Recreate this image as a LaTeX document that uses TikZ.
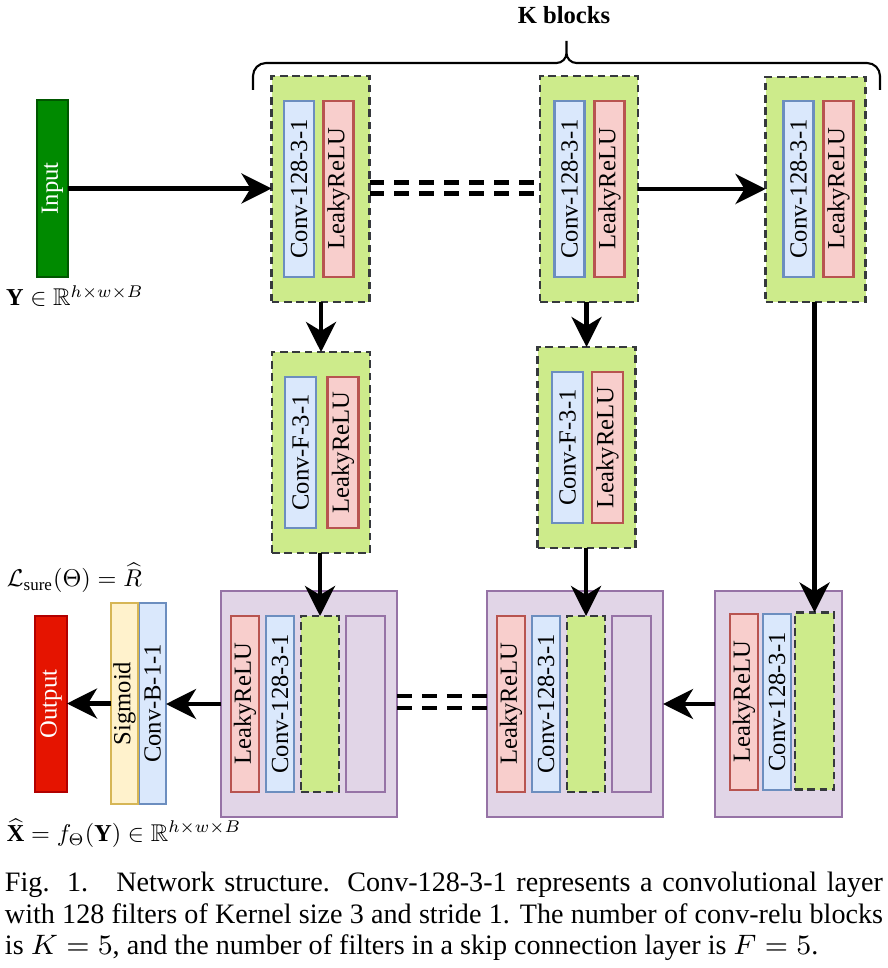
\documentclass[tikz,border=0pt]{standalone}
\usepackage{fontspec}
\setmainfont{Liberation Serif}
\usepackage{amsmath,amssymb}
\usetikzlibrary{arrows.meta}
\definecolor{gFill}{HTML}{CDEB8B}
\definecolor{gLine}{HTML}{36393D}
\definecolor{bFill}{HTML}{DAE8FC}
\definecolor{bLine}{HTML}{6C8EBF}
\definecolor{rFill}{HTML}{F8CECC}
\definecolor{rLine}{HTML}{B85450}
\definecolor{pFill}{HTML}{E1D5E7}
\definecolor{pLine}{HTML}{9673A6}
\definecolor{yFill}{HTML}{FFF2CC}
\definecolor{yLine}{HTML}{D6B656}
\definecolor{inFill}{HTML}{008A00}
\definecolor{inLine}{HTML}{005700}
\definecolor{outFill}{HTML}{E51400}
\definecolor{outLine}{HTML}{B20000}
\newcommand{\smallmath}[1]{\scalebox{0.69}{$#1$}}

\begin{document}
\begin{tikzpicture}[
  every node/.style={font=\fontsize{7}{8}\selectfont, inner sep=0pt, outer sep=0pt},
  bar/.style={rotate=90, draw, line width=0.6pt},
  convbar/.style={bar, draw=bLine, fill=bFill},
  relubar/.style={bar, draw=rLine, fill=rFill},
  tallbar/.style={minimum width=1.76cm, minimum height=0.30cm},
  midbar/.style={minimum width=1.51cm, minimum height=0.31cm},
  lowbar/.style={minimum width=1.76cm, minimum height=0.28cm},
  headbar/.style={minimum width=2.01cm, minimum height=0.27cm},
  block/.style={draw=gLine, fill=gFill, line width=0.6pt,
                dash pattern=on 2.2pt off 1.3pt, minimum width=0.98cm},
  stage/.style={draw=pLine, fill=pFill, line width=0.6pt, minimum height=2.26cm},
  skip/.style={block, minimum width=0.38cm, minimum height=1.76cm},
  pad/.style={draw=pLine, fill=pFill, line width=0.6pt,
              minimum width=0.39cm, minimum height=1.76cm},
  mathlab/.style={anchor=west, font=\fontsize{10}{12}\selectfont},
  arr/.style={-{Stealth[length=3mm, width=3mm, inset=0.9mm]}, line width=1.2pt},
  dlink/.style={line width=1.2pt, dash pattern=on 4.2pt off 2.9pt},
]
  \useasboundingbox (0,0) rectangle (8.87,-9.68);

  % Input
  \node[bar, draw=inLine, fill=inFill, text=white, minimum width=1.77cm,
        minimum height=0.31cm] (input) at (0.525,-1.885) {Input};
  \node[mathlab] (ylab) at (0.06,-2.96) {\smallmath{\mathbf{Y}\in\mathbb{R}^{h\times w\times B}}};

  % K blocks
  \node[font=\fontsize{7}{8}\selectfont\bfseries] (kb) at (5.64,-0.155) {K blocks};
  \draw[line width=0.6pt] (2.53,-0.90) -- (2.53,-0.76)
    arc[start angle=180, end angle=90, radius=0.13] -- (5.565,-0.63)
    arc[start angle=-90, end angle=0, radius=0.1] -- (5.665,-0.41) -- (5.665,-0.53)
    arc[start angle=180, end angle=270, radius=0.1] -- (8.67,-0.63)
    arc[start angle=90, end angle=0, radius=0.13] -- (8.80,-0.90);

  % conv-relu blocks
  \node[block, minimum height=2.26cm] (blk1) at (3.205,-1.89) {};
  \node[convbar, tallbar] (conv1) at (2.99,-1.89) {Conv-128-3-1};
  \node[relubar, tallbar] (relu1) at (3.385,-1.89) {LeakyReLU};

  \node[block, minimum height=2.26cm] (blk2) at (5.89,-1.89) {};
  \node[convbar, tallbar] (conv2) at (5.695,-1.89) {Conv-128-3-1};
  \node[relubar, tallbar] (relu2) at (6.095,-1.89) {LeakyReLU};

  \node[block, minimum width=1.0cm, minimum height=2.25cm] (blk3) at (8.155,-1.895) {};
  \node[convbar, tallbar] (conv3) at (7.985,-1.89) {Conv-128-3-1};
  \node[relubar, tallbar] (relu3) at (8.385,-1.89) {LeakyReLU};

  % skip blocks
  \node[block, minimum height=2.01cm] (blk4) at (3.21,-4.525) {};
  \node[convbar, midbar] (convf1) at (3.005,-4.525) {Conv-F-3-1};
  \node[relubar, midbar] (reluf1) at (3.43,-4.525) {LeakyReLU};

  \node[block, minimum height=2.01cm] (blk5) at (5.865,-4.475) {};
  \node[convbar, midbar] (convf2) at (5.675,-4.475) {Conv-F-3-1};
  \node[relubar, midbar] (reluf2) at (6.075,-4.475) {LeakyReLU};

  % decoder stages
  \node[stage, minimum width=1.76cm] (stA) at (3.09,-7.04) {};
  \node[relubar, lowbar] (reluA) at (2.45,-7.04) {LeakyReLU};
  \node[convbar, lowbar] (convA) at (2.80,-7.04) {Conv-128-3-1};
  \node[skip] (skipA) at (3.20,-7.04) {};
  \node[pad] (padA) at (3.655,-7.04) {};

  \node[stage, minimum width=1.76cm] (stB) at (5.75,-7.04) {};
  \node[relubar, lowbar] (reluB) at (5.11,-7.04) {LeakyReLU};
  \node[convbar, lowbar] (convB) at (5.46,-7.04) {Conv-128-3-1};
  \node[skip] (skipB) at (5.86,-7.04) {};
  \node[pad] (padB) at (6.315,-7.04) {};

  \node[stage, minimum width=1.27cm] (stC) at (7.785,-7.04) {};
  \node[relubar, lowbar] (reluC) at (7.44,-7.02) {LeakyReLU};
  \node[convbar, lowbar] (convC) at (7.77,-7.02) {Conv-128-3-1};
  \node[skip, minimum width=0.39cm, minimum height=1.77cm] (skipC) at (8.145,-7.01) {};

  % output head
  \node[convbar, headbar] (convout) at (1.525,-7.035) {Conv-B-1-1};
  \node[bar, draw=yLine, fill=yFill, headbar] (sigm) at (1.245,-7.035) {Sigmoid};
  \node[bar, draw=outLine, fill=outFill, text=white, minimum width=1.76cm,
        minimum height=0.32cm] (output) at (0.51,-7.04) {Output};
  \node[mathlab] (loss) at (0.07,-5.78)
    {\smallmath{\mathcal{L}_{\text{sure}}(\Theta)=\widehat{R}}};
  \node[mathlab] (xlab) at (0.07,-8.33)
    {\smallmath{\widehat{\mathbf{X}}=f_{\Theta}(\mathbf{Y})\in\mathbb{R}^{h\times w\times B}}};

  % connectors (rotated bars: south is their right side)
  \draw[arr] (input.south) -- (input.south -| blk1.west);
  \draw[arr] (blk2.east) -- (blk2.east -| blk3.west);
  \draw[dlink] ([yshift=0.065cm]blk1.east) -- ([yshift=0.065cm]blk1.east -| blk2.west);
  \draw[dlink] ([yshift=-0.045cm]blk1.east) -- ([yshift=-0.045cm]blk1.east -| blk2.west);
  \draw[arr] (blk4.north |- blk1.south) -- (blk4.north);
  \draw[arr] (blk5.north |- blk2.south) -- (blk5.north);
  \draw[arr] (skipA.north |- blk4.south) -- (skipA.north);
  \draw[arr] (skipB.north |- blk5.south) -- (skipB.north);
  \draw[arr] (skipC.north |- blk3.south) -- (skipC.north);
  \draw[arr] (stC.west) -- (stC.west -| stB.east);
  \draw[dlink] ([yshift=0.08cm]stA.east) -- ([yshift=0.08cm]stA.east -| stB.west);
  \draw[dlink] ([yshift=-0.04cm]stA.east) -- ([yshift=-0.04cm]stA.east -| stB.west);
  \draw[arr] (stA.west) -- (stA.west -| convout.south);
  \draw[arr] (sigm.north) -- (sigm.north -| output.south);

  % caption
  \node[text width=8.78cm, align=justify, font=\fontsize{8}{8.9}\selectfont] (cap) at (4.44,-9.165)
    {Fig. 1.\quad Network structure. Conv-128-3-1 represents a convolutional layer\linebreak
     with 128 filters of Kernel size 3 and stride 1. The number of conv-relu blocks\linebreak
     is $K=5$, and the number of filters in a skip connection layer is $F=5$.};
\end{tikzpicture}
\end{document}
